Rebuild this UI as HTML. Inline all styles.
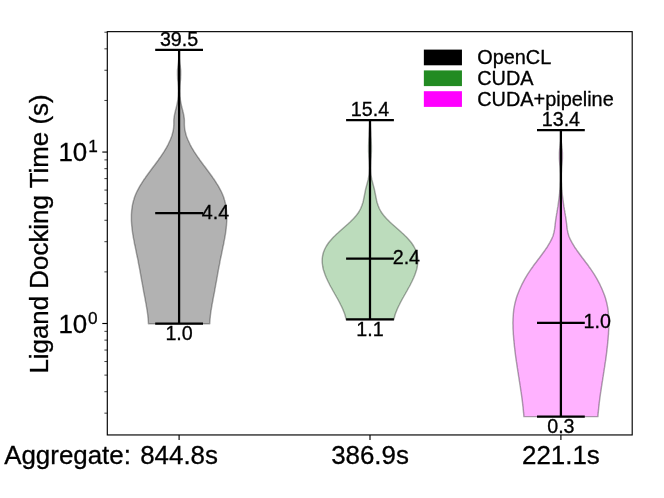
<!DOCTYPE html>
<html lang="en"><head><meta charset="utf-8"><title>Ligand Docking Time</title>
<style>html,body{margin:0;padding:0;background:#fff;}body{width:664px;height:498px;overflow:hidden;}svg{display:block;}</style>
</head><body>
<svg width="664" height="498" viewBox="0 0 664 498" font-family="'Liberation Sans', sans-serif" fill="#000"><style>text{stroke:#000;stroke-width:0.3px;}</style>
<rect x="0" y="0" width="664" height="498" fill="#fff"/>
<path d="M178.8,49.8 L178.8,51.3 L178.8,52.8 L178.8,54.3 L178.8,55.8 L178.8,57.3 L178.8,58.8 L178.6,60.3 L178.5,61.8 L178.3,63.3 L178.1,64.8 L177.9,66.3 L177.8,67.8 L177.6,69.3 L177.5,70.8 L177.5,72.3 L177.5,73.8 L177.5,75.3 L177.6,76.8 L177.6,78.3 L177.7,79.8 L177.9,81.3 L178.0,82.8 L178.1,84.3 L178.2,85.8 L178.3,87.3 L178.3,88.8 L178.4,90.3 L178.4,91.8 L178.3,93.3 L178.3,94.8 L178.2,96.3 L178.0,97.8 L177.9,99.3 L177.7,100.8 L177.4,102.3 L177.1,103.8 L176.8,105.3 L176.5,106.8 L176.1,108.3 L175.7,109.8 L175.3,111.3 L175.0,112.8 L174.6,114.3 L174.3,115.8 L174.1,117.3 L173.9,118.8 L173.8,120.3 L173.8,121.8 L173.8,123.3 L173.8,124.8 L173.7,126.3 L173.6,127.8 L173.4,129.3 L173.1,130.8 L172.8,132.3 L172.4,133.8 L172.0,135.3 L171.5,136.8 L170.9,138.3 L170.3,139.8 L169.6,141.3 L168.9,142.8 L168.2,144.3 L167.4,145.8 L166.6,147.3 L165.7,148.8 L164.8,150.3 L163.9,151.8 L162.9,153.3 L161.9,154.8 L160.9,156.3 L159.9,157.8 L158.8,159.3 L157.8,160.8 L156.7,162.3 L155.6,163.8 L154.5,165.3 L153.3,166.8 L152.2,168.3 L151.1,169.8 L150.0,171.3 L148.9,172.8 L147.8,174.3 L146.7,175.8 L145.6,177.3 L144.6,178.8 L143.5,180.3 L142.5,181.8 L141.6,183.3 L140.6,184.8 L139.7,186.3 L138.9,187.8 L138.1,189.3 L137.3,190.8 L136.6,192.3 L135.9,193.8 L135.3,195.3 L134.7,196.8 L134.2,198.3 L133.8,199.8 L133.3,201.3 L133.0,202.8 L132.6,204.3 L132.3,205.8 L132.1,207.3 L131.9,208.8 L131.7,210.3 L131.6,211.8 L131.5,213.3 L131.4,214.8 L131.4,216.3 L131.4,217.8 L131.4,219.3 L131.4,220.8 L131.5,222.3 L131.6,223.8 L131.7,225.3 L131.9,226.8 L132.0,228.3 L132.2,229.8 L132.4,231.3 L132.6,232.8 L132.8,234.3 L133.1,235.8 L133.3,237.3 L133.6,238.8 L133.9,240.3 L134.2,241.8 L134.4,243.3 L134.7,244.8 L135.1,246.3 L135.4,247.8 L135.7,249.3 L136.0,250.8 L136.3,252.3 L136.6,253.8 L136.9,255.3 L137.2,256.8 L137.6,258.3 L137.9,259.8 L138.2,261.3 L138.4,262.8 L138.7,264.3 L139.0,265.8 L139.3,267.3 L139.6,268.8 L139.9,270.3 L140.1,271.8 L140.4,273.3 L140.7,274.8 L140.9,276.3 L141.2,277.8 L141.5,279.3 L141.7,280.8 L142.0,282.3 L142.3,283.8 L142.6,285.3 L142.8,286.8 L143.1,288.3 L143.4,289.8 L143.6,291.3 L143.9,292.8 L144.2,294.3 L144.5,295.8 L144.8,297.3 L145.1,298.8 L145.3,300.3 L145.6,301.8 L145.9,303.3 L146.2,304.8 L146.4,306.3 L146.7,307.8 L146.9,309.3 L147.2,310.8 L147.4,312.3 L147.6,313.8 L147.8,315.3 L147.9,316.8 L148.1,318.3 L148.2,319.8 L148.3,321.3 L148.4,322.8 L148.4,323.7 L209.8,323.7 L209.8,322.8 L209.9,321.3 L210.0,319.8 L210.1,318.3 L210.3,316.8 L210.4,315.3 L210.6,313.8 L210.8,312.3 L211.0,310.8 L211.3,309.3 L211.5,307.8 L211.8,306.3 L212.0,304.8 L212.3,303.3 L212.6,301.8 L212.9,300.3 L213.1,298.8 L213.4,297.3 L213.7,295.8 L214.0,294.3 L214.3,292.8 L214.6,291.3 L214.8,289.8 L215.1,288.3 L215.4,286.8 L215.6,285.3 L215.9,283.8 L216.2,282.3 L216.5,280.8 L216.7,279.3 L217.0,277.8 L217.3,276.3 L217.5,274.8 L217.8,273.3 L218.1,271.8 L218.3,270.3 L218.6,268.8 L218.9,267.3 L219.2,265.8 L219.5,264.3 L219.8,262.8 L220.0,261.3 L220.3,259.8 L220.6,258.3 L221.0,256.8 L221.3,255.3 L221.6,253.8 L221.9,252.3 L222.2,250.8 L222.5,249.3 L222.8,247.8 L223.1,246.3 L223.5,244.8 L223.8,243.3 L224.0,241.8 L224.3,240.3 L224.6,238.8 L224.9,237.3 L225.1,235.8 L225.4,234.3 L225.6,232.8 L225.8,231.3 L226.0,229.8 L226.2,228.3 L226.3,226.8 L226.5,225.3 L226.6,223.8 L226.7,222.3 L226.8,220.8 L226.8,219.3 L226.8,217.8 L226.8,216.3 L226.8,214.8 L226.7,213.3 L226.6,211.8 L226.5,210.3 L226.3,208.8 L226.1,207.3 L225.9,205.8 L225.6,204.3 L225.2,202.8 L224.9,201.3 L224.4,199.8 L224.0,198.3 L223.5,196.8 L222.9,195.3 L222.3,193.8 L221.6,192.3 L220.9,190.8 L220.1,189.3 L219.3,187.8 L218.5,186.3 L217.6,184.8 L216.6,183.3 L215.7,181.8 L214.7,180.3 L213.6,178.8 L212.6,177.3 L211.5,175.8 L210.4,174.3 L209.3,172.8 L208.2,171.3 L207.1,169.8 L206.0,168.3 L204.9,166.8 L203.7,165.3 L202.6,163.8 L201.5,162.3 L200.4,160.8 L199.4,159.3 L198.3,157.8 L197.3,156.3 L196.3,154.8 L195.3,153.3 L194.3,151.8 L193.4,150.3 L192.5,148.8 L191.6,147.3 L190.8,145.8 L190.0,144.3 L189.3,142.8 L188.6,141.3 L187.9,139.8 L187.3,138.3 L186.7,136.8 L186.2,135.3 L185.8,133.8 L185.4,132.3 L185.1,130.8 L184.8,129.3 L184.6,127.8 L184.5,126.3 L184.4,124.8 L184.4,123.3 L184.4,121.8 L184.4,120.3 L184.3,118.8 L184.1,117.3 L183.9,115.8 L183.6,114.3 L183.2,112.8 L182.9,111.3 L182.5,109.8 L182.1,108.3 L181.7,106.8 L181.4,105.3 L181.1,103.8 L180.8,102.3 L180.5,100.8 L180.3,99.3 L180.2,97.8 L180.0,96.3 L179.9,94.8 L179.9,93.3 L179.8,91.8 L179.8,90.3 L179.9,88.8 L179.9,87.3 L180.0,85.8 L180.1,84.3 L180.2,82.8 L180.3,81.3 L180.5,79.8 L180.6,78.3 L180.6,76.8 L180.7,75.3 L180.7,73.8 L180.7,72.3 L180.7,70.8 L180.6,69.3 L180.4,67.8 L180.3,66.3 L180.1,64.8 L179.9,63.3 L179.7,61.8 L179.6,60.3 L179.4,58.8 L179.4,57.3 L179.4,55.8 L179.4,54.3 L179.4,52.8 L179.4,51.3 L179.4,49.8Z" fill="#000000" fill-opacity="0.3" stroke="#000" stroke-opacity="0.33" stroke-width="1.45" stroke-linejoin="round"/>
<path d="M369.7,120.0 L369.7,121.5 L369.7,123.0 L369.6,124.5 L369.6,126.0 L369.5,127.5 L369.4,129.0 L369.3,130.5 L369.2,132.0 L369.1,133.5 L369.1,135.0 L369.0,136.5 L368.9,138.0 L368.8,139.5 L368.8,141.0 L368.7,142.5 L368.7,144.0 L368.6,145.5 L368.6,147.0 L368.6,148.5 L368.6,150.0 L368.6,151.5 L368.7,153.0 L368.8,154.5 L368.8,156.0 L368.9,157.5 L369.0,159.0 L369.1,160.5 L369.2,162.0 L369.2,163.5 L369.3,165.0 L369.3,166.5 L369.4,168.0 L369.3,169.5 L369.3,171.0 L369.2,172.5 L369.1,174.0 L368.9,175.5 L368.7,177.0 L368.4,178.5 L368.1,180.0 L367.7,181.5 L367.3,183.0 L366.9,184.5 L366.5,186.0 L366.1,187.5 L365.7,189.0 L365.4,190.5 L365.1,192.0 L364.8,193.5 L364.5,195.0 L364.2,196.5 L363.9,198.0 L363.6,199.5 L363.3,201.0 L362.9,202.5 L362.4,204.0 L361.9,205.5 L361.3,207.0 L360.7,208.5 L359.9,210.0 L359.1,211.5 L358.1,213.0 L357.0,214.5 L355.8,216.0 L354.5,217.5 L353.1,219.0 L351.6,220.5 L350.1,222.0 L348.5,223.5 L346.8,225.0 L345.1,226.5 L343.4,228.0 L341.7,229.5 L340.0,231.0 L338.4,232.5 L336.7,234.0 L335.2,235.5 L333.6,237.0 L332.2,238.5 L330.9,240.0 L329.6,241.5 L328.4,243.0 L327.4,244.5 L326.4,246.0 L325.6,247.5 L324.8,249.0 L324.2,250.5 L323.6,252.0 L323.1,253.5 L322.8,255.0 L322.5,256.5 L322.3,258.0 L322.2,259.5 L322.2,261.0 L322.2,262.5 L322.4,264.0 L322.6,265.5 L322.8,267.0 L323.1,268.5 L323.5,270.0 L324.0,271.5 L324.5,273.0 L325.0,274.5 L325.6,276.0 L326.2,277.5 L326.9,279.0 L327.6,280.5 L328.3,282.0 L329.1,283.5 L329.8,285.0 L330.6,286.5 L331.5,288.0 L332.3,289.5 L333.1,291.0 L334.0,292.5 L334.8,294.0 L335.7,295.5 L336.5,297.0 L337.4,298.5 L338.2,300.0 L339.0,301.5 L339.8,303.0 L340.5,304.5 L341.3,306.0 L342.0,307.5 L342.7,309.0 L343.3,310.5 L343.9,312.0 L344.5,313.5 L345.0,315.0 L345.4,316.5 L345.8,318.0 L346.2,319.5 L393.8,319.5 L394.2,318.0 L394.6,316.5 L395.0,315.0 L395.5,313.5 L396.1,312.0 L396.7,310.5 L397.3,309.0 L398.0,307.5 L398.7,306.0 L399.5,304.5 L400.2,303.0 L401.0,301.5 L401.8,300.0 L402.6,298.5 L403.5,297.0 L404.3,295.5 L405.2,294.0 L406.0,292.5 L406.9,291.0 L407.7,289.5 L408.5,288.0 L409.4,286.5 L410.2,285.0 L410.9,283.5 L411.7,282.0 L412.4,280.5 L413.1,279.0 L413.8,277.5 L414.4,276.0 L415.0,274.5 L415.5,273.0 L416.0,271.5 L416.5,270.0 L416.9,268.5 L417.2,267.0 L417.4,265.5 L417.6,264.0 L417.8,262.5 L417.8,261.0 L417.8,259.5 L417.7,258.0 L417.5,256.5 L417.2,255.0 L416.9,253.5 L416.4,252.0 L415.8,250.5 L415.2,249.0 L414.4,247.5 L413.6,246.0 L412.6,244.5 L411.6,243.0 L410.4,241.5 L409.1,240.0 L407.8,238.5 L406.4,237.0 L404.8,235.5 L403.3,234.0 L401.6,232.5 L400.0,231.0 L398.3,229.5 L396.6,228.0 L394.9,226.5 L393.2,225.0 L391.5,223.5 L389.9,222.0 L388.4,220.5 L386.9,219.0 L385.5,217.5 L384.2,216.0 L383.0,214.5 L381.9,213.0 L380.9,211.5 L380.1,210.0 L379.3,208.5 L378.7,207.0 L378.1,205.5 L377.6,204.0 L377.1,202.5 L376.7,201.0 L376.4,199.5 L376.1,198.0 L375.8,196.5 L375.5,195.0 L375.2,193.5 L374.9,192.0 L374.6,190.5 L374.3,189.0 L373.9,187.5 L373.5,186.0 L373.1,184.5 L372.7,183.0 L372.3,181.5 L371.9,180.0 L371.6,178.5 L371.3,177.0 L371.1,175.5 L370.9,174.0 L370.8,172.5 L370.7,171.0 L370.7,169.5 L370.6,168.0 L370.7,166.5 L370.7,165.0 L370.8,163.5 L370.8,162.0 L370.9,160.5 L371.0,159.0 L371.1,157.5 L371.2,156.0 L371.2,154.5 L371.3,153.0 L371.4,151.5 L371.4,150.0 L371.4,148.5 L371.4,147.0 L371.4,145.5 L371.3,144.0 L371.3,142.5 L371.2,141.0 L371.2,139.5 L371.1,138.0 L371.0,136.5 L370.9,135.0 L370.9,133.5 L370.8,132.0 L370.7,130.5 L370.6,129.0 L370.5,127.5 L370.4,126.0 L370.4,124.5 L370.3,123.0 L370.3,121.5 L370.3,120.0Z" fill="#228b22" fill-opacity="0.3" stroke="#000" stroke-opacity="0.33" stroke-width="1.45" stroke-linejoin="round"/>
<path d="M560.6,130.2 L560.6,131.7 L560.6,133.2 L560.6,134.7 L560.6,136.2 L560.6,137.7 L560.6,139.2 L560.6,140.7 L560.5,142.2 L560.3,143.7 L560.1,145.2 L560.0,146.7 L559.8,148.2 L559.6,149.7 L559.5,151.2 L559.4,152.7 L559.4,154.2 L559.4,155.7 L559.4,157.2 L559.4,158.7 L559.5,160.2 L559.6,161.7 L559.7,163.2 L559.8,164.7 L560.0,166.2 L560.1,167.7 L560.2,169.2 L560.2,170.7 L560.3,172.2 L560.4,173.7 L560.4,175.2 L560.4,176.7 L560.4,178.2 L560.4,179.7 L560.4,181.2 L560.3,182.7 L560.2,184.2 L560.2,185.7 L560.1,187.2 L560.0,188.7 L559.9,190.2 L559.7,191.7 L559.6,193.2 L559.5,194.7 L559.3,196.2 L559.1,197.7 L558.9,199.2 L558.7,200.7 L558.5,202.2 L558.3,203.7 L558.1,205.2 L557.9,206.7 L557.6,208.2 L557.4,209.7 L557.1,211.2 L556.9,212.7 L556.6,214.2 L556.4,215.7 L556.1,217.2 L555.9,218.7 L555.7,220.2 L555.5,221.7 L555.3,223.2 L555.1,224.7 L555.0,226.2 L554.8,227.7 L554.6,229.2 L554.3,230.7 L554.0,232.2 L553.6,233.7 L553.2,235.2 L552.7,236.7 L552.0,238.2 L551.4,239.7 L550.6,241.2 L549.8,242.7 L548.9,244.2 L548.0,245.7 L547.1,247.2 L546.0,248.7 L545.0,250.2 L543.9,251.7 L542.8,253.2 L541.7,254.7 L540.6,256.2 L539.5,257.7 L538.3,259.2 L537.2,260.7 L536.1,262.2 L534.9,263.7 L533.8,265.2 L532.8,266.7 L531.7,268.2 L530.7,269.7 L529.7,271.2 L528.7,272.7 L527.7,274.2 L526.8,275.7 L525.9,277.2 L525.0,278.7 L524.2,280.2 L523.4,281.7 L522.6,283.2 L521.8,284.7 L521.1,286.2 L520.4,287.7 L519.7,289.2 L519.1,290.7 L518.5,292.2 L517.9,293.7 L517.3,295.2 L516.8,296.7 L516.3,298.2 L515.9,299.7 L515.5,301.2 L515.1,302.7 L514.8,304.2 L514.5,305.7 L514.2,307.2 L513.9,308.7 L513.7,310.2 L513.6,311.7 L513.4,313.2 L513.3,314.7 L513.2,316.2 L513.1,317.7 L513.0,319.2 L513.0,320.7 L512.9,322.2 L512.9,323.7 L513.0,325.2 L513.0,326.7 L513.0,328.2 L513.1,329.7 L513.2,331.2 L513.3,332.7 L513.3,334.2 L513.5,335.7 L513.6,337.2 L513.7,338.7 L513.8,340.2 L514.0,341.7 L514.1,343.2 L514.3,344.7 L514.4,346.2 L514.6,347.7 L514.8,349.2 L514.9,350.7 L515.1,352.2 L515.3,353.7 L515.5,355.2 L515.7,356.7 L515.9,358.2 L516.1,359.7 L516.3,361.2 L516.6,362.7 L516.8,364.2 L517.0,365.7 L517.2,367.2 L517.5,368.7 L517.7,370.2 L517.9,371.7 L518.2,373.2 L518.4,374.7 L518.6,376.2 L518.9,377.7 L519.1,379.2 L519.3,380.7 L519.6,382.2 L519.8,383.7 L520.0,385.2 L520.3,386.7 L520.5,388.2 L520.7,389.7 L520.9,391.2 L521.2,392.7 L521.4,394.2 L521.6,395.7 L521.8,397.2 L522.0,398.7 L522.2,400.2 L522.4,401.7 L522.6,403.2 L522.7,404.7 L522.9,406.2 L523.1,407.7 L523.2,409.2 L523.4,410.7 L523.5,412.2 L523.7,413.7 L523.8,415.2 L523.9,416.6 L597.9,416.6 L598.0,415.2 L598.1,413.7 L598.3,412.2 L598.4,410.7 L598.6,409.2 L598.7,407.7 L598.9,406.2 L599.1,404.7 L599.2,403.2 L599.4,401.7 L599.6,400.2 L599.8,398.7 L600.0,397.2 L600.2,395.7 L600.4,394.2 L600.6,392.7 L600.9,391.2 L601.1,389.7 L601.3,388.2 L601.5,386.7 L601.8,385.2 L602.0,383.7 L602.2,382.2 L602.5,380.7 L602.7,379.2 L602.9,377.7 L603.2,376.2 L603.4,374.7 L603.6,373.2 L603.9,371.7 L604.1,370.2 L604.3,368.7 L604.6,367.2 L604.8,365.7 L605.0,364.2 L605.2,362.7 L605.5,361.2 L605.7,359.7 L605.9,358.2 L606.1,356.7 L606.3,355.2 L606.5,353.7 L606.7,352.2 L606.9,350.7 L607.0,349.2 L607.2,347.7 L607.4,346.2 L607.5,344.7 L607.7,343.2 L607.8,341.7 L608.0,340.2 L608.1,338.7 L608.2,337.2 L608.3,335.7 L608.5,334.2 L608.5,332.7 L608.6,331.2 L608.7,329.7 L608.8,328.2 L608.8,326.7 L608.8,325.2 L608.9,323.7 L608.9,322.2 L608.8,320.7 L608.8,319.2 L608.7,317.7 L608.6,316.2 L608.5,314.7 L608.4,313.2 L608.2,311.7 L608.1,310.2 L607.9,308.7 L607.6,307.2 L607.3,305.7 L607.0,304.2 L606.7,302.7 L606.3,301.2 L605.9,299.7 L605.5,298.2 L605.0,296.7 L604.5,295.2 L603.9,293.7 L603.3,292.2 L602.7,290.7 L602.1,289.2 L601.4,287.7 L600.7,286.2 L600.0,284.7 L599.2,283.2 L598.4,281.7 L597.6,280.2 L596.8,278.7 L595.9,277.2 L595.0,275.7 L594.1,274.2 L593.1,272.7 L592.1,271.2 L591.1,269.7 L590.1,268.2 L589.0,266.7 L588.0,265.2 L586.9,263.7 L585.7,262.2 L584.6,260.7 L583.5,259.2 L582.3,257.7 L581.2,256.2 L580.1,254.7 L579.0,253.2 L577.9,251.7 L576.8,250.2 L575.8,248.7 L574.7,247.2 L573.8,245.7 L572.9,244.2 L572.0,242.7 L571.2,241.2 L570.4,239.7 L569.8,238.2 L569.1,236.7 L568.6,235.2 L568.2,233.7 L567.8,232.2 L567.5,230.7 L567.2,229.2 L567.0,227.7 L566.8,226.2 L566.7,224.7 L566.5,223.2 L566.3,221.7 L566.1,220.2 L565.9,218.7 L565.7,217.2 L565.4,215.7 L565.2,214.2 L564.9,212.7 L564.7,211.2 L564.4,209.7 L564.2,208.2 L563.9,206.7 L563.7,205.2 L563.5,203.7 L563.3,202.2 L563.1,200.7 L562.9,199.2 L562.7,197.7 L562.5,196.2 L562.3,194.7 L562.2,193.2 L562.1,191.7 L561.9,190.2 L561.8,188.7 L561.7,187.2 L561.6,185.7 L561.6,184.2 L561.5,182.7 L561.4,181.2 L561.4,179.7 L561.4,178.2 L561.4,176.7 L561.4,175.2 L561.4,173.7 L561.5,172.2 L561.6,170.7 L561.6,169.2 L561.7,167.7 L561.8,166.2 L562.0,164.7 L562.1,163.2 L562.2,161.7 L562.3,160.2 L562.4,158.7 L562.4,157.2 L562.4,155.7 L562.4,154.2 L562.4,152.7 L562.3,151.2 L562.2,149.7 L562.0,148.2 L561.8,146.7 L561.7,145.2 L561.5,143.7 L561.3,142.2 L561.2,140.7 L561.2,139.2 L561.2,137.7 L561.2,136.2 L561.2,134.7 L561.2,133.2 L561.2,131.7 L561.2,130.2Z" fill="#ff00ff" fill-opacity="0.3" stroke="#000" stroke-opacity="0.33" stroke-width="1.45" stroke-linejoin="round"/>
<g stroke="#000" stroke-width="2.25" stroke-linecap="butt">
<line x1="179.1" y1="49.9" x2="179.1" y2="323.6"/>
<line x1="155.2" y1="49.9" x2="203.0" y2="49.9"/>
<line x1="155.2" y1="213.1" x2="203.0" y2="213.1"/>
<line x1="155.2" y1="323.6" x2="203.0" y2="323.6"/>
</g>
<g stroke="#000" stroke-width="2.25" stroke-linecap="butt">
<line x1="370.0" y1="120.0" x2="370.0" y2="319.4"/>
<line x1="346.1" y1="120.0" x2="393.9" y2="120.0"/>
<line x1="346.1" y1="258.6" x2="393.9" y2="258.6"/>
<line x1="346.1" y1="319.4" x2="393.9" y2="319.4"/>
</g>
<g stroke="#000" stroke-width="2.25" stroke-linecap="butt">
<line x1="560.9" y1="130.2" x2="560.9" y2="416.55"/>
<line x1="537.0" y1="130.2" x2="584.8" y2="130.2"/>
<line x1="537.0" y1="322.9" x2="584.8" y2="322.9"/>
<line x1="537.0" y1="416.55" x2="584.8" y2="416.55"/>
</g>
<text x="179.1" y="45.8" font-size="19.7" text-anchor="middle">39.5</text>
<text x="201.8" y="218.6" font-size="19.7" text-anchor="start">4.4</text>
<text x="179.1" y="340.2" font-size="19.7" text-anchor="middle">1.0</text>
<text x="370.0" y="115.9" font-size="19.7" text-anchor="middle">15.4</text>
<text x="392.7" y="264.1" font-size="19.7" text-anchor="start">2.4</text>
<text x="370.0" y="336.0" font-size="19.7" text-anchor="middle">1.1</text>
<text x="560.9" y="126.1" font-size="19.7" text-anchor="middle">13.4</text>
<text x="583.6" y="328.4" font-size="19.7" text-anchor="start">1.0</text>
<text x="560.9" y="433.2" font-size="19.7" text-anchor="middle">0.3</text>
<rect x="107.3" y="31.65" width="524.90" height="403.30" fill="none" stroke="#000" stroke-width="1.15"/>
<g stroke="#000">
<line x1="102.30" y1="323.50" x2="107.3" y2="323.50" stroke-width="1.15"/>
<line x1="102.30" y1="152.05" x2="107.3" y2="152.05" stroke-width="1.15"/>
<line x1="104.40" y1="413.15" x2="107.3" y2="413.15" stroke-width="0.75"/>
<line x1="104.40" y1="391.73" x2="107.3" y2="391.73" stroke-width="0.75"/>
<line x1="104.40" y1="375.11" x2="107.3" y2="375.11" stroke-width="0.75"/>
<line x1="104.40" y1="361.54" x2="107.3" y2="361.54" stroke-width="0.75"/>
<line x1="104.40" y1="350.06" x2="107.3" y2="350.06" stroke-width="0.75"/>
<line x1="104.40" y1="340.12" x2="107.3" y2="340.12" stroke-width="0.75"/>
<line x1="104.40" y1="331.35" x2="107.3" y2="331.35" stroke-width="0.75"/>
<line x1="104.40" y1="271.89" x2="107.3" y2="271.89" stroke-width="0.75"/>
<line x1="104.40" y1="241.70" x2="107.3" y2="241.70" stroke-width="0.75"/>
<line x1="104.40" y1="220.28" x2="107.3" y2="220.28" stroke-width="0.75"/>
<line x1="104.40" y1="203.66" x2="107.3" y2="203.66" stroke-width="0.75"/>
<line x1="104.40" y1="190.09" x2="107.3" y2="190.09" stroke-width="0.75"/>
<line x1="104.40" y1="178.61" x2="107.3" y2="178.61" stroke-width="0.75"/>
<line x1="104.40" y1="168.67" x2="107.3" y2="168.67" stroke-width="0.75"/>
<line x1="104.40" y1="159.90" x2="107.3" y2="159.90" stroke-width="0.75"/>
<line x1="104.40" y1="100.44" x2="107.3" y2="100.44" stroke-width="0.75"/>
<line x1="104.40" y1="70.25" x2="107.3" y2="70.25" stroke-width="0.75"/>
<line x1="104.40" y1="48.83" x2="107.3" y2="48.83" stroke-width="0.75"/>
<line x1="104.40" y1="32.21" x2="107.3" y2="32.21" stroke-width="0.75"/>
<line x1="179.1" y1="434.95" x2="179.1" y2="439.95" stroke-width="1.15"/>
<line x1="370.0" y1="434.95" x2="370.0" y2="439.95" stroke-width="1.15"/>
<line x1="560.9" y1="434.95" x2="560.9" y2="439.95" stroke-width="1.15"/>
</g>
<text x="58.4" y="161.20" font-size="25.9">10<tspan dx="1.1" dy="-9.2" font-size="17.2">1</tspan></text>
<text x="58.4" y="333.05" font-size="25.9">10<tspan dx="0.9" dy="-9.2" font-size="17.2">0</tspan></text>
<text x="179.1" y="463.5" font-size="25.9" text-anchor="middle">844.8s</text>
<text x="370.0" y="463.5" font-size="25.9" text-anchor="middle">386.9s</text>
<text x="560.9" y="463.5" font-size="25.9" text-anchor="middle">221.1s</text>
<text x="4.2" y="463.5" font-size="25.9">Aggregate:</text>
<text transform="translate(48.0,234.0) rotate(-90)" font-size="25.9" text-anchor="middle">Ligand Docking Time (s)</text>
<rect x="423.85" y="49.60" width="38.1" height="15.7" fill="#000000"/>
<text x="477.2" y="64.1" font-size="19.9">OpenCL</text>
<rect x="423.85" y="70.40" width="38.1" height="15.7" fill="#228b22"/>
<text x="477.2" y="84.9" font-size="19.9">CUDA</text>
<rect x="423.85" y="91.20" width="38.1" height="15.7" fill="#ff00ff"/>
<text x="477.2" y="105.7" font-size="19.9">CUDA+pipeline</text>
</svg>
</body></html>
